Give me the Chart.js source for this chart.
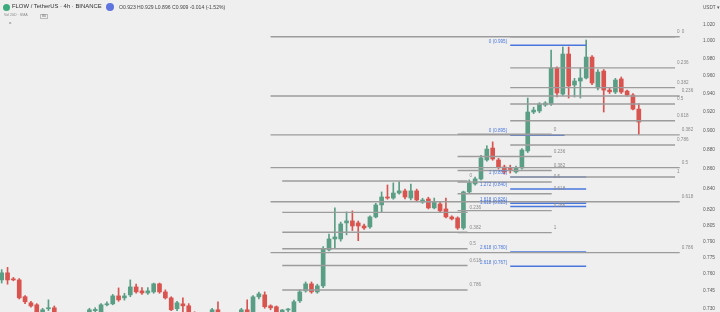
<!DOCTYPE html>
<html>
<head>
<meta charset="utf-8">
<script src="https://cdn.jsdelivr.net/npm/chart.js@4.4.1/dist/chart.umd.min.js"></script>
<style>
  html, body { margin: 0; padding: 0; background: #efefef; }
  #wrap { position: relative; width: 720px; height: 312px; overflow: hidden; background: #efefef; }
  #c { position: absolute; left: 0; top: 0; }
  .t { position: absolute; white-space: nowrap; font-family: "Liberation Sans", Arial, sans-serif; line-height: 1; }
</style>
</head>
<body>
<div id="wrap">
  <canvas id="c" width="720" height="312"></canvas>
  <div class="t" style="left:3px;top:4px;width:7px;height:7px;border-radius:50%;background:#3daa7e;"></div>
  <div class="t" style="left:12px;top:4px;font-size:5.9px;color:#2f2f2f;">FLOW / TetherUS · 4h · BINANCE</div>
  <div class="t" style="left:106px;top:3px;width:8px;height:8px;border-radius:50%;background:#5f74de;"></div>
  <div class="t" style="left:119px;top:5px;font-size:5.1px;color:#444;">O0.923 H0.929 L0.896 C0.909 -0.014 (-1.52%)</div>
  <div class="t" style="left:4px;top:14px;font-size:3.6px;color:#8a8a8a;">Vol 20D · SMA</div>
  <div class="t" style="left:40px;top:13.5px;font-size:3.6px;color:#666;border:0.5px solid #bbb;padding:0 1px;">80</div>
  <div class="t" style="left:9px;top:22px;font-size:5px;color:#555;">^</div>
  <div class="t" style="left:703px;top:6px;font-size:4.6px;color:#555;">USDT ▾</div>
</div>
<script>
// FLOW/USDT 4h candles, oldest first
const candleOpen = [
  0.7548, 0.7611, 0.7556, 0.7548, 0.740, 0.7347, 0.733, 0.726, 0.7296, 0.7304,
  0.724, 0.720, 0.717, 0.719, 0.722, 0.725, 0.7279, 0.727, 0.733, 0.7338,
  0.7407, 0.739, 0.7416, 0.7486, 0.7451, 0.7433, 0.7442, 0.7513, 0.7442, 0.739,
  0.7296, 0.7338, 0.7321, 0.726, 0.722, 0.720, 0.724, 0.7287, 0.725, 0.721,
  0.723, 0.725, 0.7287, 0.726, 0.7399, 0.7416, 0.7321, 0.7313, 0.7270, 0.7285,
  0.727, 0.7364, 0.7451, 0.7513, 0.7442, 0.7495, 0.7819, 0.7921, 0.7921, 0.8072,
  0.8091, 0.8072, 0.8043, 0.8034, 0.8129, 0.8245, 0.8322, 0.8312, 0.8361, 0.8382,
  0.8312, 0.8382, 0.8273, 0.8303, 0.8216, 0.8254, 0.8206, 0.8129, 0.8119, 0.8024,
  0.8372, 0.8451, 0.8501, 0.8693, 0.8816, 0.8693, 0.8622, 0.8601, 0.8571, 0.8612,
  0.8786, 0.9198, 0.9209, 0.9274, 0.9285, 0.9687, 0.9395, 0.9848, 0.9495, 0.9540,
  0.9574, 0.9813, 0.9462, 0.9653, 0.9439, 0.9417, 0.9563, 0.9428, 0.9384, 0.923
];
const candleHigh = [
  0.764, 0.766, 0.757, 0.756, 0.741, 0.736, 0.734, 0.730, 0.7373, 0.732,
  0.725, 0.722, 0.721, 0.724, 0.726, 0.730, 0.7305, 0.734, 0.7356, 0.742,
  0.7477, 0.743, 0.7548, 0.751, 0.748, 0.748, 0.752, 0.752, 0.746, 0.740,
  0.736, 0.739, 0.734, 0.727, 0.724, 0.725, 0.730, 0.7356, 0.726, 0.725,
  0.726, 0.730, 0.7373, 0.741, 0.744, 0.7442, 0.733, 0.732, 0.729, 0.730,
  0.737, 0.746, 0.753, 0.753, 0.751, 0.785, 0.7966, 0.8216, 0.808, 0.8177,
  0.8187, 0.809, 0.806, 0.814, 0.826, 0.8372, 0.8441, 0.8461, 0.8471, 0.840,
  0.845, 0.840, 0.831, 0.832, 0.8312, 0.827, 0.8312, 0.814, 0.813, 0.838,
  0.8491, 0.852, 0.874, 0.884, 0.888, 0.871, 0.864, 0.864, 0.863, 0.881,
  0.9351, 0.925, 0.930, 0.931, 0.9895, 0.970, 0.993, 0.993, 0.957, 0.9687,
  1.0012, 0.983, 0.967, 0.967, 0.9462, 0.957, 0.9585, 0.944, 0.940, 0.929
];
const candleLow = [
  0.752, 0.751, 0.754, 0.738, 0.734, 0.731, 0.725, 0.724, 0.728, 0.722,
  0.718, 0.715, 0.714, 0.717, 0.720, 0.724, 0.726, 0.726, 0.732, 0.733,
  0.736, 0.737, 0.740, 0.743, 0.742, 0.742, 0.743, 0.743, 0.738, 0.728,
  0.728, 0.727, 0.724, 0.720, 0.718, 0.719, 0.722, 0.724, 0.719, 0.719,
  0.721, 0.724, 0.725, 0.725, 0.738, 0.730, 0.7287, 0.725, 0.726, 0.727,
  0.726, 0.735, 0.744, 0.743, 0.743, 0.748, 0.781, 0.7838, 0.790, 0.7959,
  0.800, 0.7905, 0.801, 0.802, 0.812, 0.8177, 0.830, 0.830, 0.835, 0.8303,
  0.8293, 0.828, 0.826, 0.8206, 0.8206, 0.8177, 0.812, 0.810, 0.801, 0.801,
  0.836, 0.844, 0.849, 0.868, 0.869, 0.860, 0.855, 0.856, 0.856, 0.860,
  0.877, 0.918, 0.919, 0.926, 0.927, 0.9362, 0.938, 0.9351, 0.9362, 0.9351,
  0.9563, 0.950, 0.944, 0.9198, 0.940, 0.940, 0.940, 0.937, 0.922, 0.896
];
const candleClose = [
  0.7611, 0.7548, 0.7548, 0.739, 0.7356, 0.732, 0.727, 0.7287, 0.7304, 0.724,
  0.720, 0.717, 0.719, 0.722, 0.725, 0.7287, 0.7290, 0.733, 0.7338, 0.7407,
  0.7373, 0.7407, 0.7486, 0.7442, 0.7433, 0.7451, 0.7513, 0.7442, 0.739, 0.7287,
  0.7347, 0.7321, 0.726, 0.722, 0.720, 0.724, 0.7287, 0.725, 0.721, 0.723,
  0.725, 0.7287, 0.726, 0.7399, 0.7425, 0.7313, 0.7304, 0.7265, 0.7285, 0.7290,
  0.7356, 0.7442, 0.7513, 0.7442, 0.7495, 0.7829, 0.7921, 0.7940, 0.8062, 0.8091,
  0.8043, 0.8043, 0.8024, 0.8129, 0.8245, 0.8322, 0.8312, 0.8361, 0.8382, 0.8322,
  0.8382, 0.8293, 0.8293, 0.8216, 0.8273, 0.8187, 0.8129, 0.8110, 0.8024, 0.8372,
  0.8461, 0.8501, 0.8714, 0.8805, 0.8703, 0.8622, 0.8571, 0.8596, 0.8612, 0.8796,
  0.9198, 0.9219, 0.9285, 0.9296, 0.9687, 0.9406, 0.9848, 0.9484, 0.9540, 0.9574,
  0.9813, 0.9518, 0.9641, 0.9439, 0.9420, 0.9551, 0.9417, 0.9384, 0.9230, 0.909
];

// price axis labels
const priceTicks = [1.020, 1.000, 0.980, 0.960, 0.940, 0.920, 0.900, 0.880, 0.860,
  0.840, 0.820, 0.805, 0.790, 0.775, 0.760, 0.745, 0.730];

// Fibonacci retracements: swing top/bottom price, anchored bar range
const retraceLevels = [0, 0.236, 0.382, 0.5, 0.618, 0.786, 1];
const retraceTop = [1.005, 1.005, 0.896, 0.848];
const retraceBottom = [0.852, 0.718, 0.798, 0.718];
const retraceFromBar = [87, 46, 78, 48];
const retraceToBar = [115.2, 116.0, 94.1, 79.7];
const retraceShownLevels = [7, 6, 7, 6];

// Fibonacci extension levels (blue)
const extLevel = ['0', '0', '1', '1.272', '1.618', '1.618', '2.618', '2.618'];
const extPrice = [0.995, 0.895, 0.852, 0.840, 0.826, 0.823, 0.780, 0.767];
const extFromBar = [87, 87, 87, 87, 87, 87, 87, 87];
const extToBar = [100, 96.3, 100, 100, 100, 100, 100, 100];

const UP = '#5a9e85', DOWN = '#d9534f';
const FIB_GREY = '#9c9c9c', FIB_BLUE = '#4a77de';

const idx = candleOpen.map((_, i) => i);
const colors = idx.map(i => candleClose[i] >= candleOpen[i] ? UP : DOWN);

const datasets = [];

// retracement level lines
retraceTop.forEach((top, d) => {
  const span = top - retraceBottom[d];
  retraceLevels.slice(0, retraceShownLevels[d]).forEach(lv => {
    const p = top - span * lv;
    datasets.push({
      type: 'line', order: 0,
      data: [{ x: retraceFromBar[d], y: p }, { x: retraceToBar[d], y: p }],
      borderColor: FIB_GREY, borderWidth: 1.4, pointRadius: 0, fill: false
    });
  });
});

// extension level lines
extPrice.forEach((p, k) => {
  datasets.push({
    type: 'line', order: 0,
    data: [{ x: extFromBar[k], y: p }, { x: extToBar[k], y: p }],
    borderColor: FIB_BLUE, borderWidth: 1.5, pointRadius: 0, fill: false
  });
});

// wicks
datasets.push({
  type: 'bar', order: 2, grouped: false,
  data: idx.map(i => ({ x: i, y: [candleLow[i], candleHigh[i]] })),
  backgroundColor: colors, barThickness: 1
});
// bodies
datasets.push({
  type: 'bar', order: 1, grouped: false,
  data: idx.map(i => ({ x: i, y: [candleOpen[i], candleClose[i]] })),
  backgroundColor: colors, barThickness: 4, minBarLength: 1
});

// level captions for the Fibonacci tools
const fibText = {
  id: 'fibText',
  afterDatasetsDraw(chart) {
    const { ctx, scales: { x, y } } = chart;
    ctx.save();
    ctx.textBaseline = 'middle';
    ctx.font = '4.6px "Liberation Sans", Arial, sans-serif';
    ctx.fillStyle = '#8a8a8a';
    ctx.textAlign = 'left';
    retraceTop.forEach((top, d) => {
      const span = top - retraceBottom[d];
      const lx = x.getPixelForValue(retraceToBar[d]) + 2;
      retraceLevels.slice(0, retraceShownLevels[d]).forEach(lv => {
        const py = y.getPixelForValue(top - span * lv);
        ctx.fillText(String(lv), lx, py - 5);
      });
    });
    ctx.fillStyle = FIB_BLUE;
    ctx.textAlign = 'right';
    extPrice.forEach((p, k) => {
      const lx = x.getPixelForValue(extFromBar[k]) - 3;
      const py = y.getPixelForValue(p);
      ctx.fillText(extLevel[k] + ' (' + p.toFixed(3) + ')', lx, py - 4);
    });
    ctx.restore();
  }
};

new Chart(document.getElementById('c'), {
  data: { datasets },
  options: {
    responsive: false,
    animation: false,
    devicePixelRatio: 1,
    layout: { padding: 0 },
    plugins: { legend: { display: false }, tooltip: { enabled: false } },
    scales: {
      x: { type: 'linear', min: -0.29, max: 119.3, offset: false, display: false },
      y: {
        type: 'logarithmic', position: 'right', min: 0.7268, max: 1.0495, offset: false,
        grid: { display: false, drawTicks: false }, border: { display: false },
        afterBuildTicks(s) { s.ticks = priceTicks.map(v => ({ value: v })); },
        afterFit(s) { s.width = 21; s.paddingTop = 0; s.paddingBottom = 0; },
        ticks: {
          autoSkip: false, padding: 4, color: '#5a5a5a',
          font: { size: 4.8, family: '"Liberation Sans", Arial, sans-serif' },
          callback: v => Number(v).toFixed(3)
        }
      }
    }
  },
  plugins: [fibText]
});
</script>
</body>
</html>
